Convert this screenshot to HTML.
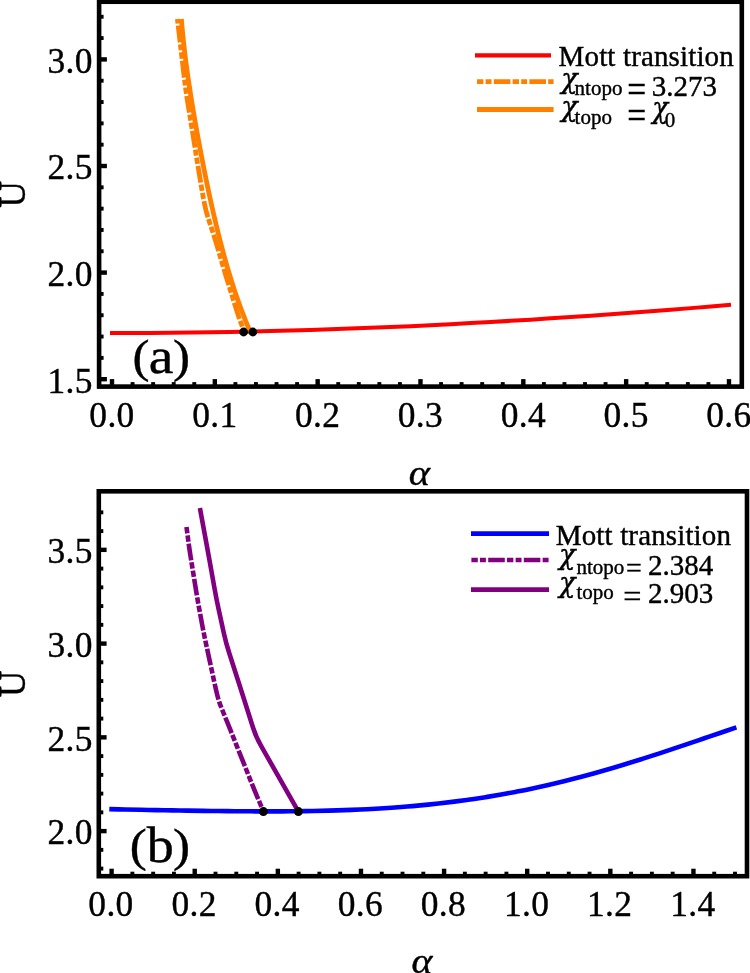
<!DOCTYPE html>
<html lang="en"><head><meta charset="utf-8"><title>Mott transition phase diagrams</title>
<style>html,body{margin:0;padding:0;background:#fff;}body{width:750px;height:973px;overflow:hidden;}svg{display:block;}text{font-family:"Liberation Serif",serif;fill:#000;stroke:#000;stroke-width:0.4px;}</style>
</head><body>
<svg width="750" height="973" viewBox="0 0 750 973">
<rect width="750" height="973" fill="#fff"/>
<path d="M110.00,333.02 L130.03,333.02 L150.06,332.95 L170.10,332.81 L190.13,332.60 L210.16,332.33 L230.19,331.99 L250.23,331.58 L270.26,331.11 L290.29,330.58 L310.32,329.99 L330.35,329.34 L350.39,328.62 L370.42,327.85 L390.45,327.02 L410.48,326.13 L430.52,325.18 L450.55,324.18 L470.58,323.12 L490.61,322.01 L510.65,320.84 L530.68,319.63 L550.71,318.36 L570.74,317.04 L590.77,315.67 L610.81,314.26 L630.84,312.79 L650.87,311.28 L670.90,309.73 L690.94,308.13 L710.97,306.48 L731.00,304.79" fill="none" stroke="#ff0000" stroke-width="4.0" stroke-linejoin="round" stroke-linecap="butt"/>
<path d="M177.40,19.00 L184.07,76.09 Q185.70,90.00 187.95,103.82 L189.95,116.18 Q192.20,130.00 194.41,143.82 L196.39,156.18 Q198.60,170.00 200.90,183.81 L201.30,186.19 Q203.60,200.00 205.30,207.50 L205.30,207.50 Q207.00,215.00 210.60,225.50 L210.60,225.50 Q214.20,236.00 218.12,249.44 L220.78,258.56 Q224.70,272.00 228.86,285.37 L234.84,304.63 Q239.00,318.00 240.60,322.00 L240.60,322.00 Q242.20,326.00 243.20,329.00 L244.20,332.00" fill="none" stroke="#ff8000" stroke-width="4.8" stroke-linecap="butt" stroke-dasharray="17 2 6 2 6.45 2" stroke-dashoffset="28.9"/>
<path d="M181.40,19.00 L182.30,29.79 L183.37,40.59 L184.58,51.38 L185.93,62.17 L187.40,72.97 L188.97,83.76 L190.63,94.55 L192.37,105.34 L194.18,116.14 L196.07,126.93 L198.01,137.72 L200.02,148.52 L202.09,159.31 L204.21,170.10 L206.41,180.90 L208.67,191.69 L211.01,202.48 L213.44,213.28 L215.96,224.07 L218.60,234.86 L221.35,245.66 L224.25,256.45 L227.31,267.24 L230.54,278.03 L233.98,288.83 L237.64,299.62 L241.56,310.41 L245.75,321.21 L250.25,332.00" fill="none" stroke="#ff8000" stroke-width="4.8" stroke-linejoin="round" stroke-linecap="butt"/>
<circle cx="243.6" cy="332" r="4.4" fill="#000"/>
<circle cx="252.8" cy="332" r="4.4" fill="#000"/>
<rect x="99.1" y="1.75" width="642.6999999999999" height="384.85" fill="none" stroke="#000" stroke-width="4.6"/>
<line x1="132.57" y1="386.6" x2="132.57" y2="382.10" stroke="#000" stroke-width="3.9"/>
<line x1="153.13" y1="386.6" x2="153.13" y2="382.10" stroke="#000" stroke-width="3.9"/>
<line x1="173.70" y1="386.6" x2="173.70" y2="382.10" stroke="#000" stroke-width="3.9"/>
<line x1="194.26" y1="386.6" x2="194.26" y2="382.10" stroke="#000" stroke-width="3.9"/>
<line x1="235.40" y1="386.6" x2="235.40" y2="382.10" stroke="#000" stroke-width="3.9"/>
<line x1="255.96" y1="386.6" x2="255.96" y2="382.10" stroke="#000" stroke-width="3.9"/>
<line x1="276.53" y1="386.6" x2="276.53" y2="382.10" stroke="#000" stroke-width="3.9"/>
<line x1="297.09" y1="386.6" x2="297.09" y2="382.10" stroke="#000" stroke-width="3.9"/>
<line x1="338.23" y1="386.6" x2="338.23" y2="382.10" stroke="#000" stroke-width="3.9"/>
<line x1="358.79" y1="386.6" x2="358.79" y2="382.10" stroke="#000" stroke-width="3.9"/>
<line x1="379.36" y1="386.6" x2="379.36" y2="382.10" stroke="#000" stroke-width="3.9"/>
<line x1="399.92" y1="386.6" x2="399.92" y2="382.10" stroke="#000" stroke-width="3.9"/>
<line x1="441.06" y1="386.6" x2="441.06" y2="382.10" stroke="#000" stroke-width="3.9"/>
<line x1="461.62" y1="386.6" x2="461.62" y2="382.10" stroke="#000" stroke-width="3.9"/>
<line x1="482.19" y1="386.6" x2="482.19" y2="382.10" stroke="#000" stroke-width="3.9"/>
<line x1="502.75" y1="386.6" x2="502.75" y2="382.10" stroke="#000" stroke-width="3.9"/>
<line x1="543.89" y1="386.6" x2="543.89" y2="382.10" stroke="#000" stroke-width="3.9"/>
<line x1="564.45" y1="386.6" x2="564.45" y2="382.10" stroke="#000" stroke-width="3.9"/>
<line x1="585.02" y1="386.6" x2="585.02" y2="382.10" stroke="#000" stroke-width="3.9"/>
<line x1="605.58" y1="386.6" x2="605.58" y2="382.10" stroke="#000" stroke-width="3.9"/>
<line x1="646.72" y1="386.6" x2="646.72" y2="382.10" stroke="#000" stroke-width="3.9"/>
<line x1="667.28" y1="386.6" x2="667.28" y2="382.10" stroke="#000" stroke-width="3.9"/>
<line x1="687.85" y1="386.6" x2="687.85" y2="382.10" stroke="#000" stroke-width="3.9"/>
<line x1="708.41" y1="386.6" x2="708.41" y2="382.10" stroke="#000" stroke-width="3.9"/>
<line x1="112.00" y1="386.6" x2="112.00" y2="379.10" stroke="#000" stroke-width="4.4"/>
<line x1="214.83" y1="386.6" x2="214.83" y2="379.10" stroke="#000" stroke-width="4.4"/>
<line x1="317.66" y1="386.6" x2="317.66" y2="379.10" stroke="#000" stroke-width="4.4"/>
<line x1="420.49" y1="386.6" x2="420.49" y2="379.10" stroke="#000" stroke-width="4.4"/>
<line x1="523.32" y1="386.6" x2="523.32" y2="379.10" stroke="#000" stroke-width="4.4"/>
<line x1="626.15" y1="386.6" x2="626.15" y2="379.10" stroke="#000" stroke-width="4.4"/>
<line x1="728.98" y1="386.6" x2="728.98" y2="379.10" stroke="#000" stroke-width="4.4"/>
<text x="112.00" y="427.2" font-size="35.4" letter-spacing="0.35" text-anchor="middle">0.0</text>
<text x="214.83" y="427.2" font-size="35.4" letter-spacing="0.35" text-anchor="middle">0.1</text>
<text x="317.66" y="427.2" font-size="35.4" letter-spacing="0.35" text-anchor="middle">0.2</text>
<text x="420.49" y="427.2" font-size="35.4" letter-spacing="0.35" text-anchor="middle">0.3</text>
<text x="523.32" y="427.2" font-size="35.4" letter-spacing="0.35" text-anchor="middle">0.4</text>
<text x="626.15" y="427.2" font-size="35.4" letter-spacing="0.35" text-anchor="middle">0.5</text>
<text x="728.98" y="427.2" font-size="35.4" letter-spacing="0.35" text-anchor="middle">0.6</text>
<line x1="99.1" y1="357.88" x2="103.60" y2="357.88" stroke="#000" stroke-width="3.9"/>
<line x1="99.1" y1="336.56" x2="103.60" y2="336.56" stroke="#000" stroke-width="3.9"/>
<line x1="99.1" y1="315.24" x2="103.60" y2="315.24" stroke="#000" stroke-width="3.9"/>
<line x1="99.1" y1="293.92" x2="103.60" y2="293.92" stroke="#000" stroke-width="3.9"/>
<line x1="99.1" y1="251.28" x2="103.60" y2="251.28" stroke="#000" stroke-width="3.9"/>
<line x1="99.1" y1="229.96" x2="103.60" y2="229.96" stroke="#000" stroke-width="3.9"/>
<line x1="99.1" y1="208.64" x2="103.60" y2="208.64" stroke="#000" stroke-width="3.9"/>
<line x1="99.1" y1="187.32" x2="103.60" y2="187.32" stroke="#000" stroke-width="3.9"/>
<line x1="99.1" y1="144.68" x2="103.60" y2="144.68" stroke="#000" stroke-width="3.9"/>
<line x1="99.1" y1="123.36" x2="103.60" y2="123.36" stroke="#000" stroke-width="3.9"/>
<line x1="99.1" y1="102.04" x2="103.60" y2="102.04" stroke="#000" stroke-width="3.9"/>
<line x1="99.1" y1="80.72" x2="103.60" y2="80.72" stroke="#000" stroke-width="3.9"/>
<line x1="99.1" y1="38.08" x2="103.60" y2="38.08" stroke="#000" stroke-width="3.9"/>
<line x1="99.1" y1="16.76" x2="103.60" y2="16.76" stroke="#000" stroke-width="3.9"/>
<line x1="99.1" y1="379.20" x2="106.90" y2="379.20" stroke="#000" stroke-width="4.4"/>
<line x1="99.1" y1="272.60" x2="106.90" y2="272.60" stroke="#000" stroke-width="4.4"/>
<line x1="99.1" y1="166.00" x2="106.90" y2="166.00" stroke="#000" stroke-width="4.4"/>
<line x1="99.1" y1="59.40" x2="106.90" y2="59.40" stroke="#000" stroke-width="4.4"/>
<text x="92.8" y="392.50" font-size="35.4" letter-spacing="0.35" text-anchor="end">1.5</text>
<text x="92.8" y="285.90" font-size="35.4" letter-spacing="0.35" text-anchor="end">2.0</text>
<text x="92.8" y="179.30" font-size="35.4" letter-spacing="0.35" text-anchor="end">2.5</text>
<text x="92.8" y="72.70" font-size="35.4" letter-spacing="0.35" text-anchor="end">3.0</text>
<text transform="scale(1.08,1)"><tspan x="122.64" y="371.90" font-size="47.3">(</tspan><tspan x="137.73" y="373.00" font-size="51.5">a</tspan><tspan x="160.23" y="371.90" font-size="47.3">)</tspan></text>
<text transform="translate(408.80,484.54) scale(1.154,1)" font-size="35.07" font-style="italic" style='font-family:"Liberation Serif", serif'>α</text>
<text transform="translate(25.0,194.4) rotate(-90)" font-size="37" text-anchor="middle">U</text>
<line x1="475" y1="55.4" x2="551" y2="55.4" stroke="#ff0000" stroke-width="4.2"/>
<line x1="477" y1="81.6" x2="553.6" y2="81.6" stroke="#ff8000" stroke-width="4.8" stroke-dasharray="6.4 2.2 5.9 2.3 16.6 2.2"/>
<line x1="477" y1="109.4" x2="553.6" y2="109.4" stroke="#ff8000" stroke-width="5"/>
<text x="558.6" y="65.6" font-size="29" letter-spacing="0.14">Mott transition</text>
<text transform="translate(561.27,88.15) scale(0.946,1)" font-size="28.60" font-style="italic" style='font-family:"DejaVu Serif", "Liberation Serif", serif'>χ</text>
<text x="574.6" y="95.2" font-size="21">ntopo</text>
<text transform="translate(627.23,89.70) scale(1,1.1)" y="11.13" font-size="33.53">=</text>
<text x="651.8" y="95.8" font-size="29">3.273</text>
<text transform="translate(561.27,115.52) scale(0.942,1)" font-size="28.73" font-style="italic" style='font-family:"DejaVu Serif", "Liberation Serif", serif'>χ</text>
<text x="574.6" y="123.7" font-size="21">topo</text>
<text transform="translate(627.23,116.00) scale(1,1.1)" y="11.13" font-size="33.53">=</text>
<text transform="translate(652.32,117.56) scale(0.904,1)" font-size="28.99" font-style="italic" style='font-family:"DejaVu Serif", "Liberation Serif", serif'>χ</text>
<text x="664.7" y="126.5" font-size="21">0</text>
<path d="M109.30,809.11 C111.91,809.17 119.75,809.35 124.98,809.46 C130.20,809.57 135.43,809.68 140.66,809.78 C145.88,809.89 151.11,809.99 156.33,810.08 C161.56,810.18 166.78,810.27 172.01,810.36 C177.24,810.45 182.46,810.54 187.69,810.62 C192.91,810.70 198.14,810.78 203.37,810.85 C208.59,810.92 213.82,810.99 219.04,811.05 C224.27,811.11 229.49,811.16 234.72,811.21 C239.95,811.25 245.17,811.29 250.40,811.32 C255.62,811.34 260.85,811.36 266.07,811.36 C271.30,811.37 276.53,811.36 281.75,811.34 C286.98,811.31 292.20,811.27 297.43,811.22 C302.66,811.16 307.88,811.09 313.11,810.99 C318.33,810.90 323.56,810.79 328.79,810.65 C334.01,810.51 339.24,810.36 344.46,810.17 C349.69,809.99 354.91,809.78 360.14,809.54 C365.37,809.30 370.59,809.03 375.82,808.74 C381.04,808.44 386.27,808.11 391.50,807.75 C396.72,807.39 401.95,806.99 407.17,806.56 C412.40,806.13 417.62,805.66 422.85,805.16 C428.08,804.65 433.30,804.11 438.53,803.53 C443.75,802.94 448.98,802.32 454.21,801.65 C459.43,800.99 464.66,800.28 469.88,799.53 C475.11,798.78 480.33,797.98 485.56,797.15 C490.79,796.31 496.01,795.42 501.24,794.50 C506.46,793.57 511.69,792.59 516.91,791.57 C522.14,790.56 527.37,789.49 532.59,788.38 C537.82,787.27 543.04,786.12 548.27,784.92 C553.50,783.72 558.72,782.47 563.95,781.18 C569.17,779.90 574.40,778.56 579.62,777.19 C584.85,775.82 590.08,774.40 595.30,772.95 C600.53,771.50 605.75,770.00 610.98,768.47 C616.21,766.94 621.43,765.38 626.66,763.78 C631.88,762.18 637.11,760.55 642.33,758.89 C647.56,757.24 652.79,755.55 658.01,753.84 C663.24,752.14 668.46,750.40 673.69,748.66 C678.92,746.92 684.14,745.15 689.37,743.38 C694.59,741.61 699.82,739.83 705.04,738.05 C710.27,736.27 715.50,734.48 720.72,732.71 C725.95,730.94 733.79,728.31 736.40,727.43" fill="none" stroke="#0000ff" stroke-width="4.6" stroke-linecap="butt"/>
<path d="M186.50,527.00 L188.46,541.92 Q189.50,549.85 190.78,557.75 L196.32,592.10 Q197.60,600.00 199.05,607.87 L202.05,624.13 Q203.50,632.00 205.19,639.82 L208.71,656.18 Q210.40,664.00 212.08,671.82 L214.32,682.18 Q216.00,690.00 217.50,696.00 L217.50,696.00 Q219.00,702.00 222.03,709.40 L224.17,714.60 Q227.20,722.00 230.17,729.43 L237.03,746.57 Q240.00,754.00 242.97,761.43 L251.43,782.57 Q254.40,790.00 257.49,797.38 L263.20,811.00" fill="none" stroke="#800080" stroke-width="4.6" stroke-linecap="butt" stroke-dasharray="16.85 1.95 6.45 1.95 6.45 1.95" stroke-dashoffset="18.8"/>
<path d="M199.90,508.00 L205.79,540.02 Q207.60,549.85 209.37,559.69 L214.83,590.16 Q216.60,600.00 218.74,609.77 L223.86,633.23 Q226.00,643.00 229.06,652.52 L238.04,680.48 Q241.10,690.00 244.12,699.53 L252.98,727.47 Q256.00,737.00 260.95,745.69 L298.00,810.80" fill="none" stroke="#800080" stroke-width="4.6" stroke-linecap="butt"/>
<circle cx="263.4" cy="811.6" r="4.5" fill="#000"/>
<circle cx="298.4" cy="811.6" r="4.5" fill="#000"/>
<rect x="98.8" y="491.3" width="648.2" height="384.90000000000003" fill="none" stroke="#000" stroke-width="4.6"/>
<line x1="132.38" y1="876.2" x2="132.38" y2="871.70" stroke="#000" stroke-width="3.9"/>
<line x1="153.16" y1="876.2" x2="153.16" y2="871.70" stroke="#000" stroke-width="3.9"/>
<line x1="173.94" y1="876.2" x2="173.94" y2="871.70" stroke="#000" stroke-width="3.9"/>
<line x1="215.50" y1="876.2" x2="215.50" y2="871.70" stroke="#000" stroke-width="3.9"/>
<line x1="236.28" y1="876.2" x2="236.28" y2="871.70" stroke="#000" stroke-width="3.9"/>
<line x1="257.06" y1="876.2" x2="257.06" y2="871.70" stroke="#000" stroke-width="3.9"/>
<line x1="298.62" y1="876.2" x2="298.62" y2="871.70" stroke="#000" stroke-width="3.9"/>
<line x1="319.40" y1="876.2" x2="319.40" y2="871.70" stroke="#000" stroke-width="3.9"/>
<line x1="340.18" y1="876.2" x2="340.18" y2="871.70" stroke="#000" stroke-width="3.9"/>
<line x1="381.74" y1="876.2" x2="381.74" y2="871.70" stroke="#000" stroke-width="3.9"/>
<line x1="402.52" y1="876.2" x2="402.52" y2="871.70" stroke="#000" stroke-width="3.9"/>
<line x1="423.30" y1="876.2" x2="423.30" y2="871.70" stroke="#000" stroke-width="3.9"/>
<line x1="464.86" y1="876.2" x2="464.86" y2="871.70" stroke="#000" stroke-width="3.9"/>
<line x1="485.64" y1="876.2" x2="485.64" y2="871.70" stroke="#000" stroke-width="3.9"/>
<line x1="506.42" y1="876.2" x2="506.42" y2="871.70" stroke="#000" stroke-width="3.9"/>
<line x1="547.98" y1="876.2" x2="547.98" y2="871.70" stroke="#000" stroke-width="3.9"/>
<line x1="568.76" y1="876.2" x2="568.76" y2="871.70" stroke="#000" stroke-width="3.9"/>
<line x1="589.54" y1="876.2" x2="589.54" y2="871.70" stroke="#000" stroke-width="3.9"/>
<line x1="631.10" y1="876.2" x2="631.10" y2="871.70" stroke="#000" stroke-width="3.9"/>
<line x1="651.88" y1="876.2" x2="651.88" y2="871.70" stroke="#000" stroke-width="3.9"/>
<line x1="672.66" y1="876.2" x2="672.66" y2="871.70" stroke="#000" stroke-width="3.9"/>
<line x1="714.22" y1="876.2" x2="714.22" y2="871.70" stroke="#000" stroke-width="3.9"/>
<line x1="735.00" y1="876.2" x2="735.00" y2="871.70" stroke="#000" stroke-width="3.9"/>
<line x1="111.60" y1="876.2" x2="111.60" y2="868.70" stroke="#000" stroke-width="4.4"/>
<line x1="194.72" y1="876.2" x2="194.72" y2="868.70" stroke="#000" stroke-width="4.4"/>
<line x1="277.84" y1="876.2" x2="277.84" y2="868.70" stroke="#000" stroke-width="4.4"/>
<line x1="360.96" y1="876.2" x2="360.96" y2="868.70" stroke="#000" stroke-width="4.4"/>
<line x1="444.08" y1="876.2" x2="444.08" y2="868.70" stroke="#000" stroke-width="4.4"/>
<line x1="527.20" y1="876.2" x2="527.20" y2="868.70" stroke="#000" stroke-width="4.4"/>
<line x1="610.32" y1="876.2" x2="610.32" y2="868.70" stroke="#000" stroke-width="4.4"/>
<line x1="693.44" y1="876.2" x2="693.44" y2="868.70" stroke="#000" stroke-width="4.4"/>
<text x="111.00" y="916.3" font-size="35.4" letter-spacing="0.35" text-anchor="middle">0.0</text>
<text x="194.12" y="916.3" font-size="35.4" letter-spacing="0.35" text-anchor="middle">0.2</text>
<text x="277.24" y="916.3" font-size="35.4" letter-spacing="0.35" text-anchor="middle">0.4</text>
<text x="360.36" y="916.3" font-size="35.4" letter-spacing="0.35" text-anchor="middle">0.6</text>
<text x="443.48" y="916.3" font-size="35.4" letter-spacing="0.35" text-anchor="middle">0.8</text>
<text x="526.60" y="916.3" font-size="35.4" letter-spacing="0.35" text-anchor="middle">1.0</text>
<text x="609.72" y="916.3" font-size="35.4" letter-spacing="0.35" text-anchor="middle">1.2</text>
<text x="692.84" y="916.3" font-size="35.4" letter-spacing="0.35" text-anchor="middle">1.4</text>
<line x1="98.8" y1="868.60" x2="103.30" y2="868.60" stroke="#000" stroke-width="3.9"/>
<line x1="98.8" y1="849.85" x2="103.30" y2="849.85" stroke="#000" stroke-width="3.9"/>
<line x1="98.8" y1="812.35" x2="103.30" y2="812.35" stroke="#000" stroke-width="3.9"/>
<line x1="98.8" y1="793.60" x2="103.30" y2="793.60" stroke="#000" stroke-width="3.9"/>
<line x1="98.8" y1="774.85" x2="103.30" y2="774.85" stroke="#000" stroke-width="3.9"/>
<line x1="98.8" y1="756.10" x2="103.30" y2="756.10" stroke="#000" stroke-width="3.9"/>
<line x1="98.8" y1="718.60" x2="103.30" y2="718.60" stroke="#000" stroke-width="3.9"/>
<line x1="98.8" y1="699.85" x2="103.30" y2="699.85" stroke="#000" stroke-width="3.9"/>
<line x1="98.8" y1="681.10" x2="103.30" y2="681.10" stroke="#000" stroke-width="3.9"/>
<line x1="98.8" y1="662.35" x2="103.30" y2="662.35" stroke="#000" stroke-width="3.9"/>
<line x1="98.8" y1="624.85" x2="103.30" y2="624.85" stroke="#000" stroke-width="3.9"/>
<line x1="98.8" y1="606.10" x2="103.30" y2="606.10" stroke="#000" stroke-width="3.9"/>
<line x1="98.8" y1="587.35" x2="103.30" y2="587.35" stroke="#000" stroke-width="3.9"/>
<line x1="98.8" y1="568.60" x2="103.30" y2="568.60" stroke="#000" stroke-width="3.9"/>
<line x1="98.8" y1="531.10" x2="103.30" y2="531.10" stroke="#000" stroke-width="3.9"/>
<line x1="98.8" y1="512.35" x2="103.30" y2="512.35" stroke="#000" stroke-width="3.9"/>
<line x1="98.8" y1="831.10" x2="106.60" y2="831.10" stroke="#000" stroke-width="4.4"/>
<line x1="98.8" y1="737.35" x2="106.60" y2="737.35" stroke="#000" stroke-width="4.4"/>
<line x1="98.8" y1="643.60" x2="106.60" y2="643.60" stroke="#000" stroke-width="4.4"/>
<line x1="98.8" y1="549.85" x2="106.60" y2="549.85" stroke="#000" stroke-width="4.4"/>
<text x="92.8" y="844.40" font-size="35.4" letter-spacing="0.35" text-anchor="end">2.0</text>
<text x="92.8" y="750.65" font-size="35.4" letter-spacing="0.35" text-anchor="end">2.5</text>
<text x="92.8" y="656.90" font-size="35.4" letter-spacing="0.35" text-anchor="end">3.0</text>
<text x="92.8" y="563.15" font-size="35.4" letter-spacing="0.35" text-anchor="end">3.5</text>
<text transform="scale(1.08,1)"><tspan x="120.14" y="860.60" font-size="47.3">(</tspan><tspan x="135.83" y="862.00" font-size="50.0">b</tspan><tspan x="160.23" y="860.60" font-size="47.3">)</tspan></text>
<text transform="translate(411.51,973.24) scale(1.137,1)" font-size="35.07" font-style="italic" style='font-family:"Liberation Serif", serif'>α</text>
<text transform="translate(25.0,683.8) rotate(-90)" font-size="37" text-anchor="middle">U</text>
<line x1="471" y1="533.6" x2="549" y2="533.6" stroke="#0000ff" stroke-width="4.6"/>
<line x1="471.4" y1="560" x2="548.6" y2="560" stroke="#800080" stroke-width="4.4" stroke-dasharray="6.4 2.2 5.9 2.3 16.6 2.2"/>
<line x1="471" y1="589.6" x2="549" y2="589.6" stroke="#800080" stroke-width="4.6"/>
<text x="555.8" y="545" font-size="29" letter-spacing="0.14">Mott transition</text>
<text transform="translate(558.88,564.12) scale(0.978,1)" font-size="27.80" font-style="italic" style='font-family:"DejaVu Serif", "Liberation Serif", serif'>χ</text>
<text x="576.4" y="574" font-size="21">ntopo</text>
<text transform="translate(625.91,567.80) scale(1,1.0)" y="9.28" font-size="27.94">=</text>
<text x="648" y="574.9" font-size="29">2.384</text>
<text transform="translate(558.88,591.52) scale(0.978,1)" font-size="27.80" font-style="italic" style='font-family:"DejaVu Serif", "Liberation Serif", serif'>χ</text>
<text x="576.4" y="598.7" font-size="21">topo</text>
<text transform="translate(623.29,596.05) scale(1,1.0)" y="10.70" font-size="32.24">=</text>
<text x="648" y="603.1" font-size="29">2.903</text>
</svg></body></html>
